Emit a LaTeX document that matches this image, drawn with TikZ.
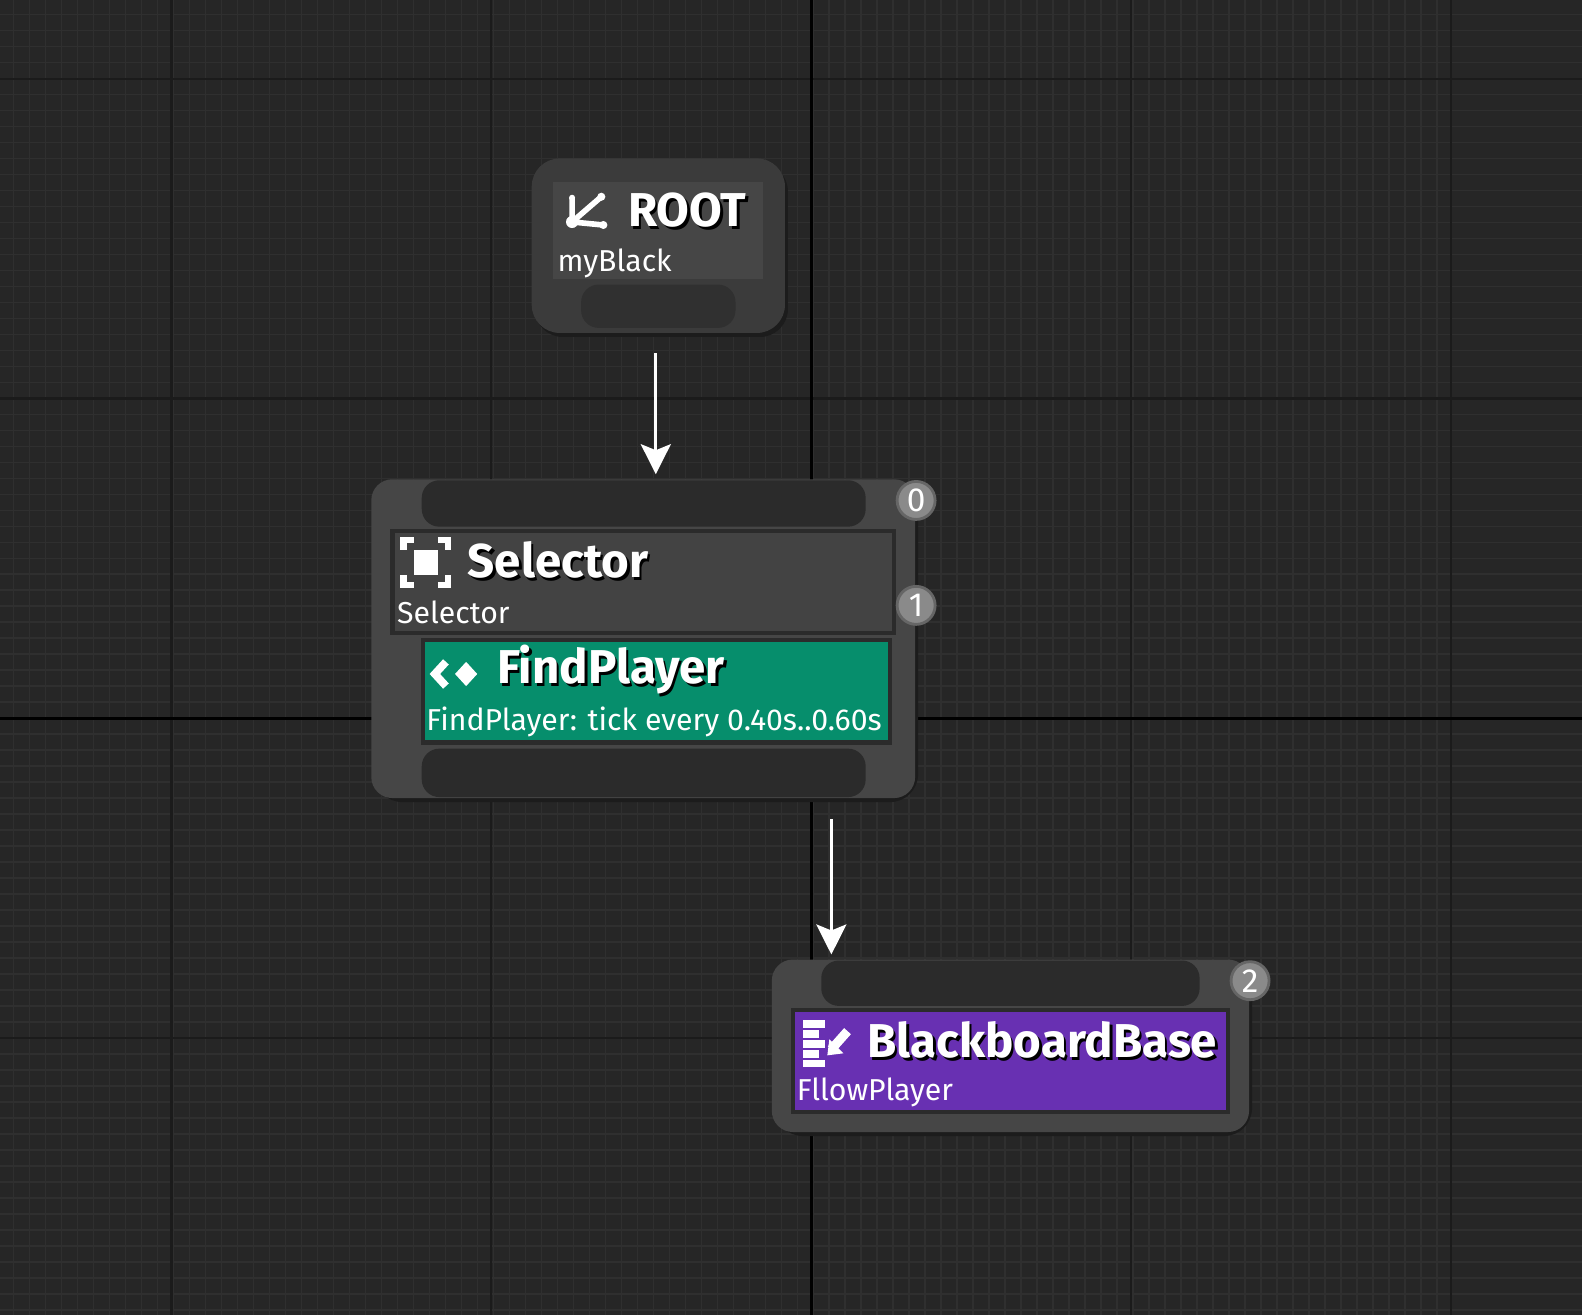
\documentclass[tikz,border=0pt]{standalone}
\usepackage{fontspec}
\setmainfont{Fira Sans}
\usetikzlibrary{arrows.meta,positioning}
\definecolor{bgc}{HTML}{262626}
\definecolor{minorc}{HTML}{2F2F2F}
\definecolor{majorc}{HTML}{1B1B1B}
\definecolor{outerc}{HTML}{464646}
\definecolor{pinc}{HTML}{2B2B2B}
\definecolor{headc}{HTML}{434343}
\definecolor{greenc}{HTML}{068E6C}
\definecolor{purplec}{HTML}{6830B2}
\definecolor{badgec}{HTML}{8A8A8A}
\definecolor{shadowc}{HTML}{1C1C1C}
\tikzset{
  outerbox/.style={fill=outerc, rounded corners=6pt},
  shadowbox/.style={fill=shadowc, rounded corners=8pt},
  pinbox/.style={fill=pinc, rounded corners=5pt},
  titletext/.style={font=\fontsize{13.5}{16}\selectfont\bfseries, text=white, anchor=west, inner sep=0pt},
  subtext/.style={font=\fontsize{8.6}{11}\selectfont, text=white!88, anchor=west, inner sep=0pt},
  badge/.style={circle, fill=badgec, draw=black!60, line width=0.8pt, minimum size=0.38cm, inner sep=0pt,
    font=\fontsize{9.5}{11}\selectfont, text=white},
  link/.style={white, line width=0.8pt, -{Stealth[length=0.3cm,width=0.3cm,inset=0.06cm]}}
}
\newcommand{\shadowtitle}[3]{% name, position, text
  \node[titletext, text=black] at ([shift={(0.025cm,-0.03cm)}]#2) {#3};
  \node[titletext] (#1) at (#2) {#3};}
\begin{document}
\begin{tikzpicture}[x=0.01009cm,y=-0.01009cm]
\useasboundingbox (0,0) rectangle (1568,1303);
% background grid
\fill[bgc] (0,0) rectangle (1568,1303);
\foreach \i in {-10,...,89} {
  \draw[minorc, line width=0.4pt] ({13.5+\i*15.85},0) -- ++(0,1303);
  \draw[minorc, line width=0.4pt] (0,{-1.5+\i*15.85}) -- ++(1568,0);
}
\foreach \i in {0,...,4} {
  \draw[majorc, line width=0.6pt] ({170+\i*317},0) -- ++(0,1303);
  \draw[majorc, line width=0.6pt] (0,{78+\i*317}) -- ++(1568,0);
}
\draw[black, line width=0.9pt] (804,0) -- (804,1303);
\draw[black, line width=0.9pt] (0,712) -- (1568,712);

% ROOT node
\fill[shadowbox] (530,162) rectangle (781,334);
\fill[outerc!85!black, rounded corners=8pt] (527,157) rectangle (778,330);
\fill[outerc] (548,180) rectangle (756,277);
\fill[pinc!80!outerc, rounded corners=5pt] (576,282) rectangle (729,325);
\coordinate (rootout) at (650,350);
% root icon
\draw[white, line width=1.6pt] (567,196) -- (567,220) -- (598,223) (567,220) -- (596,195);
\fill[white] (567,220) circle (6) (598,223) circle (4) (596,195) circle (4) (567,196) circle (3);
\shadowtitle{roottitle}{622,208}{ROOT}
\node[subtext] (rootsub) at (552,261) {myBlack};

% Selector node
\fill[shadowbox] (371,479) rectangle (910,795);
\fill[outerbox] (368,475) rectangle (907,791);
\fill[pinbox] (418,476) rectangle (858,522);
\coordinate (selin) at (650,470);
\draw[fill=headc, draw=pinc, line width=1.2pt] (389,526) rectangle (886,627);
% selector icon
\draw[white, line width=1.8pt] (400,545) -- (400,535) -- (410,535) (434,535) -- (444,535) -- (444,545)
  (400,570) -- (400,580) -- (410,580) (434,580) -- (444,580) -- (444,570);
\fill[white] (410,545) rectangle (434,570);
\shadowtitle{seltitle}{463,555}{Selector}
\node[subtext] (selsub) at (393,607) {Selector};
\draw[fill=greenc, draw=pinc, line width=1.2pt] (419,634) rectangle (882,736);
% service icon
\draw[white, line width=2.2pt] (442,656) -- (431,668) -- (442,680);
\fill[white] (462,656) -- (473,668) -- (462,680) -- (451,668) -- cycle;
\shadowtitle{findtitle}{492,664}{FindPlayer}
\node[subtext] (findsub) at (422,716) {FindPlayer: tick every 0.40s..0.60s};
\fill[pinbox] (418,742) rectangle (858,790);
\coordinate (selout) at (824,812);
\node[badge] (b0) at (908,496) {0};
\node[badge] (b1) at (908,600) {1};

% BlackboardBase node
\fill[shadowbox] (768,955) rectangle (1241,1126);
\fill[outerbox] (765,951) rectangle (1238,1122);
\fill[pinbox] (814,952) rectangle (1189,997);
\coordinate (bbin) at (824,946);
\draw[fill=purplec, draw=pinc, line width=1.2pt] (786,1001) rectangle (1217,1102);
% task icon
\foreach \yy/\ww in {1015/22, 1025/16, 1035/22, 1045/16, 1054/22}
  \draw[white, line width=2.2pt] (796,\yy) -- ++(\ww,0);
\draw[white, line width=2.6pt] (840,1022) -- (824,1040);
\fill[white] (820,1046) -- (822,1030) -- (836,1044) -- cycle;
\shadowtitle{bbtitle}{859,1031}{BlackboardBase}
\node[subtext] (bbsub) at (789,1083) {FllowPlayer};
\node[badge] (b2) at (1239,972) {2};

% links
\draw[link] (rootout) -- (selin);
\draw[link] (selout) -- (bbin);
\end{tikzpicture}
\end{document}
